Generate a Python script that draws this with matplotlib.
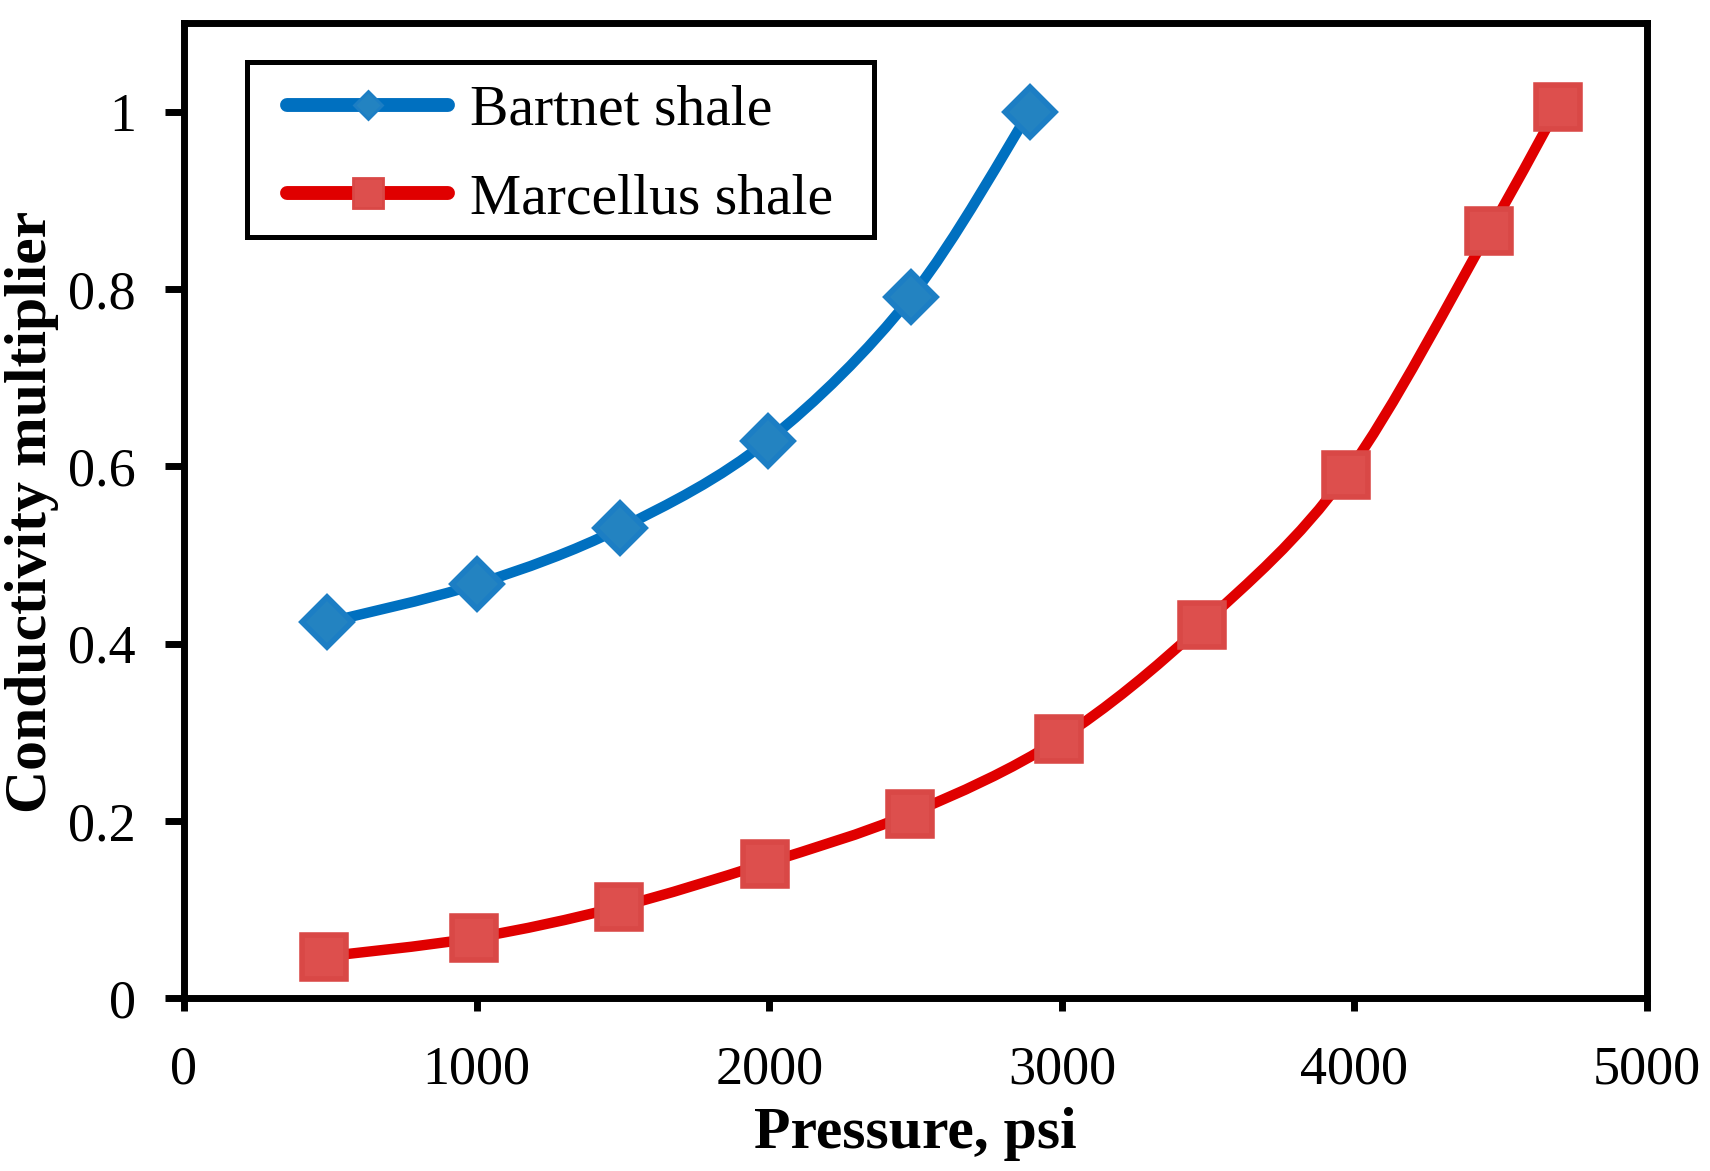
import numpy as np
import matplotlib
matplotlib.use("Agg")
import matplotlib.pyplot as plt
from matplotlib.path import Path
from matplotlib.patches import PathPatch, Rectangle
from matplotlib.lines import Line2D

# ---- data ----
bartnet_pressure = [490, 1000, 1490, 1995, 2485, 2890]
bartnet_mult = [0.424, 0.467, 0.530, 0.629, 0.791, 1.000]

marcellus_pressure = [480, 990, 1485, 1985, 2480, 2990, 3480, 3970, 4460, 4695]
marcellus_mult = [0.047, 0.068, 0.103, 0.152, 0.208, 0.292, 0.421, 0.590, 0.865, 1.005]

series_labels = ["Bartnet shale", "Marcellus shale"]
x_ticks = [0, 1000, 2000, 3000, 4000, 5000]
x_tick_labels = ["0", "1000", "2000", "3000", "4000", "5000"]
y_ticks = [0, 0.2, 0.4, 0.6, 0.8, 1.0]
y_tick_labels = ["0", "0.2", "0.4", "0.6", "0.8", "1"]
x_label = "Pressure, psi"
y_label = "Conductivity multiplier"

plt.rcParams["font.family"] = ["Liberation Serif", "DejaVu Serif"]


def smooth_path(x, y):
    """Excel-style smoothed line: cubic Bezier (Catmull-Rom) through the points."""
    pts = np.column_stack([x, y]).astype(float)
    n = len(pts)
    verts = [pts[0]]
    codes = [Path.MOVETO]
    for i in range(n - 1):
        p0 = pts[i - 1] if i > 0 else pts[i]
        p1 = pts[i]
        p2 = pts[i + 1]
        p3 = pts[i + 2] if i + 2 < n else pts[i + 1]
        c1 = p1 + (p2 - p0) / 6.0
        c2 = p2 - (p3 - p1) / 6.0
        verts += [c1, c2, p2]
        codes += [Path.CURVE4] * 3
    return Path(verts, codes)


W, H = 1710, 1171
fig = plt.figure(figsize=(W / 100, H / 100), dpi=100)
ax = fig.add_axes([0.1076, 0.1475, 0.8556, 0.8329])

blue_line = "#0070C0"
blue_face = "#2383C1"
blue_edge = "#1C7EC4"
red_line = "#E00000"
red_face = "#DD4F4D"
red_edge = "#D94846"

ax.add_patch(PathPatch(smooth_path(bartnet_pressure, bartnet_mult), fill=False,
                       edgecolor=blue_line, lw=7.5, capstyle="round", zorder=2))
ax.add_patch(PathPatch(smooth_path(marcellus_pressure, marcellus_mult), fill=False,
                       edgecolor=red_line, lw=7.5, capstyle="round", zorder=2))

ax.plot(bartnet_pressure, bartnet_mult, ls="none", marker="D", ms=25,
        mfc=blue_face, mec=blue_edge, mew=4, zorder=3, clip_on=False)
ax.plot(marcellus_pressure, marcellus_mult, ls="none", marker="s", ms=32,
        mfc=red_face, mec=red_edge, mew=4, zorder=3, clip_on=False)

ax.set_xlim(0, 5000)
ax.set_ylim(0, 1.1)
ax.set_xticks(x_ticks)
ax.set_xticklabels(x_tick_labels)
ax.set_yticks(y_ticks)
ax.set_yticklabels(y_tick_labels)

for sp in ax.spines.values():
    sp.set_linewidth(5)
    sp.set_color("black")

ax.tick_params(axis="y", direction="out", length=13.5, width=5, pad=21, labelsize=39)
ax.tick_params(axis="x", direction="out", length=9, width=5, pad=25, labelsize=39)

ax.set_xlabel(x_label, fontsize=43, fontweight="bold")
ax.xaxis.set_label_coords(0.5, -0.1532)
ax.xaxis.label.set_verticalalignment("baseline")

ax.set_ylabel(y_label, fontsize=43, fontweight="bold")
ax.yaxis.set_label_coords(-0.1039, 0.4986)
ax.yaxis.label.set_verticalalignment("center")

# legend frame (drawn separately to match the reference padding)
frame = Rectangle((247 / W, 1 - 237 / H), 627 / W, 175 / H, transform=fig.transFigure,
                  facecolor="white", edgecolor="black", lw=3.6, zorder=5)
ax.add_artist(frame)
frame.set_clip_on(False)

handles = [
    Line2D([], [], color=blue_line, lw=10, solid_capstyle="round", marker="D", ms=14.5,
           mfc=blue_face, mec=blue_edge, mew=2),
    Line2D([], [], color=red_line, lw=10, solid_capstyle="round", marker="s", ms=21,
           mfc=red_face, mec=red_edge, mew=2),
]
leg = ax.legend(handles, series_labels, loc="center left",
                bbox_to_anchor=(287 / W, 1 - 155 / H), bbox_transform=fig.transFigure,
                borderaxespad=0, borderpad=0, fontsize=41.5, frameon=False,
                labelspacing=0.63, handlelength=2.8, handletextpad=0.38)
leg.set_zorder(6)

fig.savefig("out.png", dpi=100, facecolor="white")
